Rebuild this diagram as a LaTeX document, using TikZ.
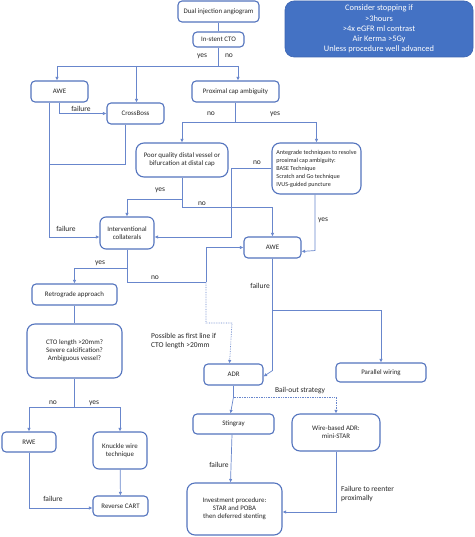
\documentclass[tikz,border=0pt]{standalone}
\usepackage{fontspec}
\setmainfont{Carlito}
\usetikzlibrary{arrows.meta,calc}
\definecolor{boxc}{RGB}{84,116,190}
\definecolor{linec}{RGB}{104,134,204}
\definecolor{fillb}{RGB}{68,114,196}
\definecolor{fillbd}{RGB}{60,100,178}
\begin{document}
\begin{tikzpicture}[x=1pt,y=-1pt,
  box/.style={draw=boxc, line width=1.1pt, rounded corners=4pt, fill=white, inner sep=1pt, align=center, font=\fontsize{6.9}{8}\selectfont, text=black!85},
  bigbox/.style={box, rounded corners=8pt},
  lbl/.style={font=\fontsize{7.5}{9.5}\selectfont, text=black!85, inner sep=0pt},
  arr/.style={draw=linec, line width=0.7pt, -{Latex[length=3.5pt,width=3.5pt]}},
  ln/.style={draw=linec, line width=0.7pt},
  dotarr/.style={arr, densely dotted},
]
\useasboundingbox[fill=white] (0,0) rectangle (474,537);

% nodes
\node[box, minimum width=81pt, minimum height=21pt] (dual) at (218.5,11.5) {Dual injection angiogram};
\node[draw=fillbd, line width=0.6pt, fill=fillb, rounded corners=9pt, minimum width=188pt, minimum height=56pt, text=white, align=center, inner sep=0pt, font=\fontsize{8.4}{10.2}\selectfont] (stop) at (379,29) {Consider stopping if\\>3hours\\>4x eGFR ml contrast\\Air Kerma >5Gy\\Unless procedure well advanced};
\node[box, minimum width=51pt, minimum height=15pt] (instent) at (218.5,39.5) {In-stent CTO};
\node[box, minimum width=57pt, minimum height=21pt] (awe1) at (59.5,91.5) {AWE};
\node[box, minimum width=57pt, minimum height=21pt] (crossboss) at (135.5,113.5) {CrossBoss};
\node[box, minimum width=87pt, minimum height=21pt] (prox) at (235.5,91.5) {Proximal cap ambiguity};
\node[bigbox, minimum width=92pt, minimum height=34pt] (poor) at (182,160) {Poor quality distal vessel or\\bifurcation at distal cap};
\node[bigbox, minimum width=89pt, minimum height=51pt, align=left, font=\fontsize{6.1}{8}\selectfont] (ante) at (316.5,168.5) {Antegrade techniques to resolve\\proximal cap ambiguity:\\BASE Technique\\Scratch and Go technique\\IVUS-guided puncture};
\node[bigbox, rounded corners=6pt, minimum width=54pt, minimum height=32pt] (interv) at (127,233) {Interventional\\collaterals};
\node[box, minimum width=57pt, minimum height=21pt] (awe2) at (272.5,247.5) {AWE};
\node[box, minimum width=85pt, minimum height=21pt] (retro) at (74.5,294.5) {Retrograde approach};
\node[bigbox, minimum width=95pt, minimum height=54pt] (ctolen) at (74.5,351) {CTO length >20mm?\\Severe calcification?\\Ambiguous vessel?};
\node[box, minimum width=59pt, minimum height=21pt] (adr) at (233.5,374.5) {ADR};
\node[box, minimum width=90pt, minimum height=19pt] (parallel) at (381,372.5) {Parallel wiring};
\node[box, minimum width=54pt, minimum height=20pt] (rwe) at (29,442) {RWE};
\node[bigbox, rounded corners=6pt, minimum width=54pt, minimum height=37pt] (knuckle) at (120,450.5) {Knuckle wire\\technique};
\node[box, minimum width=55pt, minimum height=20pt] (revcart) at (120.5,506) {Reverse CART};
\node[box, minimum width=81pt, minimum height=20pt] (stingray) at (233.5,424) {Stingray};
\node[bigbox, minimum width=88pt, minimum height=37pt] (wire) at (336,432.5) {Wire-based ADR:\\mini-STAR};
\node[bigbox, minimum width=95pt, minimum height=52pt] (invest) at (234.5,509) {Investment procedure:\\STAR and POBA\\then deferred stenting};

% junction coordinates
\coordinate (j1) at (218.5,66);
\coordinate (jcb) at (136.5,66);
\coordinate (jcl) at (49,164);
\coordinate (j2) at (235.5,122);
\coordinate (j3) at (182,199);
\coordinate (j4) at (182,207);
\coordinate (j5) at (127,268);
\coordinate (jno) at (206,282);
\coordinate (jpar) at (272.5,310);
\coordinate (j6) at (74.5,407);
\coordinate (j7) at (233.5,397);

% connectors
\draw[ln] (dual) -- (instent);
\draw[ln] (instent.south) -- (j1);
\draw[arr] (j1) -| ($(awe1.north)+(-2.5,0)$);
\draw[arr] (j1) -| ($(prox.north)+(2.5,0)$);
\draw[arr] (jcb) -- (jcb |- crossboss.north);
\node[lbl] (yes1) at (202,56) {yes};
\node[lbl] (no1) at (229,56) {no};

\draw[arr] (awe1.south) |- (crossboss.west);
\node[lbl] (f1) at (81,109) {failure};
\draw[arr] ($(awe1.south)+(-10.5,0)$) |- ($(interv.west)+(0,4)$);
\node[lbl] (f2) at (66,229) {failure};
\draw[ln] ($(crossboss.south)+(-10.5,0)$) |- (jcl);

\draw[ln] (prox.south) -- (j2);
\draw[arr] (j2) -| (poor.north);
\draw[arr] (j2) -| (ante.north);
\node[lbl] (no2) at (211,114) {no};
\node[lbl] (yes2) at (275,114) {yes};

\draw[ln] (poor.south) -- (j4);
\draw[arr] (j3) -| (interv.north);
\draw[arr] (j4) -| (awe2.north);
\node[lbl] (yes3) at (160,190) {yes};
\node[lbl] (no3) at (202,204) {no};

\draw[arr] (ante.west) -- ++(-40,0) |- ($(interv.east)+(0,4)$);
\node[lbl] (no4) at (257,163) {no};
\draw[arr] ($(ante.south)+(-1.5,0)$) -- ++(0,56) -- ($(awe2.east)+(0,4)$);
\node[lbl] (yes4) at (323,220) {yes};

\draw[ln] (interv.south) -- (j5);
\draw[arr] (j5) -| (retro.north);
\draw[ln] (j5) |- (jno);
\draw[arr] (jno) |- (awe2.west);
\node[lbl] (yes5) at (100,263) {yes};
\node[lbl] (no5) at (155,278) {no};

\draw[dotarr] (jno) -- ++(0,41) -- ++(26,0) -- ($(adr.north)+(-4,0)$);
\node[lbl, anchor=west, align=left] (poss) at (151,341) {Possible as first line if\\CTO length >20mm};

\draw[arr] (awe2.south) -- ($(awe2.south)+(0,112)$) -- ($(adr.east)+(0,2)$);
\draw[arr] (jpar) -| (parallel.north);
\node[lbl, anchor=east] (f3) at (270,286) {failure};

\draw[ln] (retro) -- (ctolen);
\draw[ln] (ctolen.south) -- (j6);
\draw[arr] (j6) -| (rwe.north);
\draw[arr] (j6) -| (knuckle.north);
\node[lbl] (no6) at (53,403) {no};
\node[lbl] (yes6) at (94,403) {yes};

\draw[arr] (rwe.south) |- ($(revcart.west)+(0,2)$);
\node[lbl] (f4) at (53,499) {failure};
\draw[arr] (knuckle) -- (revcart);

\draw[ln] (adr.south) -- (j7);
\draw[arr] (j7) -- ($(stingray.north)+(-3,0)$);
\draw[dotarr] (j7) -| (wire.north);
\node[lbl] (bail) at (300,391) {Bail-out strategy};

\draw[arr] ($(stingray.south)+(-1.5,0)$) -- ($(invest.north)+(-4,0)$);
\node[lbl] (f5) at (219,465) {failure};
\draw[arr] (wire.south) |- ($(invest.east)+(0,3)$);
\node[lbl, anchor=west, align=left] (fre) at (341,494) {Failure to reenter\\proximally};
\end{tikzpicture}
\end{document}
